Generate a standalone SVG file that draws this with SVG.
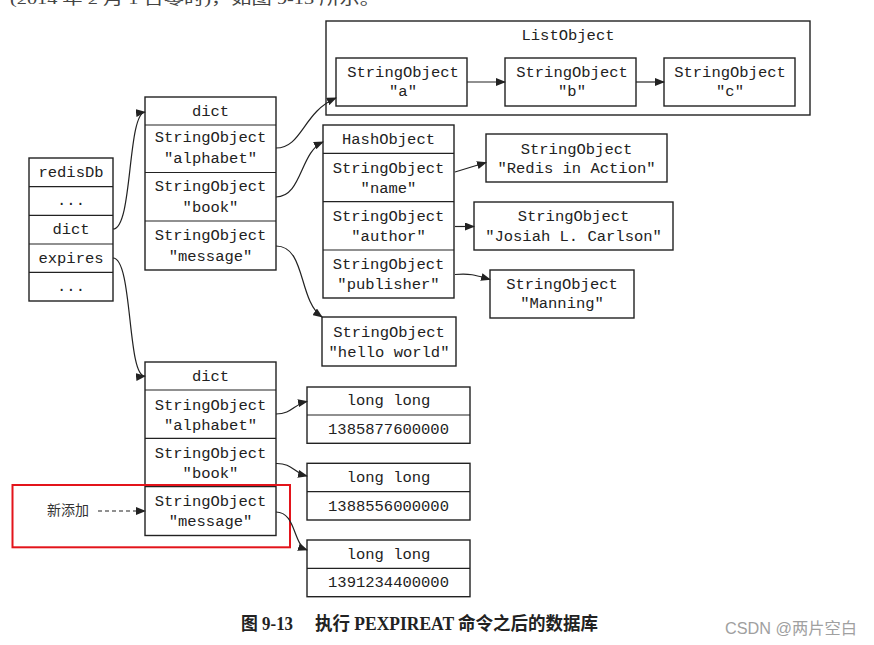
<svg xmlns="http://www.w3.org/2000/svg" width="874" height="645" viewBox="0 0 874 645">
<style>
.box{fill:#fff;stroke:#222;stroke-width:1.4}
.t{font-family:"Liberation Mono","DejaVu Sans Mono",monospace;font-size:15.5px;fill:#222;text-anchor:middle}
.c{fill:none;stroke:#222;stroke-width:1.2}
</style>
<defs>
<marker id="ah" markerUnits="userSpaceOnUse" markerWidth="10" markerHeight="8" refX="9" refY="4" orient="auto">
<path d="M0,0 L10,4 L0,8 z" fill="#222"/>
</marker>
</defs>
<rect width="874" height="645" fill="#fff"/>
<text x="10" y="4" font-family="'Liberation Serif','Noto Sans CJK SC',serif" font-size="15" fill="#444" textLength="370" lengthAdjust="spacingAndGlyphs">(2014 年 2 月 1 日零时)，如图 9-13 所示。</text>

<g id="redisDb">
<rect class="box" x="29" y="158" width="84" height="143"/>
<path class="c" d="M29,186.7H113M29,215.3H113M29,244H113M29,272.3H113"/>
<text class="t" x="71" y="177">redisDb</text>
<text class="t" x="71" y="205">...</text>
<text class="t" x="71" y="234">dict</text>
<text class="t" x="71" y="263">expires</text>
<text class="t" x="71" y="291">...</text>
</g>

<g id="dict1">
<rect class="box" x="145" y="97" width="131" height="173"/>
<path class="c" d="M145,125H276M145,172.5H276M145,221H276"/>
<text class="t" x="210.5" y="116">dict</text>
<text class="t" x="210.5" y="142">StringObject</text>
<text class="t" x="210.5" y="163">"alphabet"</text>
<text class="t" x="210.5" y="191">StringObject</text>
<text class="t" x="210.5" y="212">"book"</text>
<text class="t" x="210.5" y="240">StringObject</text>
<text class="t" x="210.5" y="261">"message"</text>
</g>

<g id="listObject">
<rect class="box" x="326" y="21" width="484" height="94"/>
<text class="t" x="568" y="40">ListObject</text>
</g>
<g id="strA">
<rect class="box" x="336" y="58" width="131" height="48"/>
<text class="t" x="403" y="77">StringObject</text>
<text class="t" x="403" y="96">"a"</text>
</g>
<g id="strB">
<rect class="box" x="505" y="58" width="131" height="48"/>
<text class="t" x="572" y="77">StringObject</text>
<text class="t" x="572" y="96">"b"</text>
</g>
<g id="strC">
<rect class="box" x="664" y="58" width="131" height="48"/>
<text class="t" x="730" y="77">StringObject</text>
<text class="t" x="730" y="96">"c"</text>
</g>

<g id="hashObject">
<rect class="box" x="323" y="125" width="131" height="173"/>
<path class="c" d="M323,153.3H454M323,201.7H454M323,250H454"/>
<text class="t" x="388.5" y="144">HashObject</text>
<text class="t" x="388.5" y="173">StringObject</text>
<text class="t" x="388.5" y="193">"name"</text>
<text class="t" x="388.5" y="221">StringObject</text>
<text class="t" x="388.5" y="241">"author"</text>
<text class="t" x="388.5" y="269">StringObject</text>
<text class="t" x="388.5" y="289">"publisher"</text>
</g>
<g id="strRedis">
<rect class="box" x="486" y="134" width="181" height="48"/>
<text class="t" x="576.5" y="154">StringObject</text>
<text class="t" x="576.5" y="173">"Redis in Action"</text>
</g>
<g id="strJosiah">
<rect class="box" x="474" y="202" width="199" height="48"/>
<text class="t" x="573.5" y="221">StringObject</text>
<text class="t" x="573.5" y="241">"Josiah L. Carlson"</text>
</g>
<g id="strManning">
<rect class="box" x="490" y="270" width="144" height="48"/>
<text class="t" x="562" y="289">StringObject</text>
<text class="t" x="562" y="308">"Manning"</text>
</g>
<g id="strHello">
<rect class="box" x="322" y="317" width="134" height="49"/>
<text class="t" x="389" y="337">StringObject</text>
<text class="t" x="389" y="357">"hello world"</text>
</g>

<g id="dict2">
<rect class="box" x="145" y="362" width="131" height="173.5"/>
<path class="c" d="M145,390H276M145,438.3H276M145,486.7H276"/>
<text class="t" x="210.5" y="381">dict</text>
<text class="t" x="210.5" y="410">StringObject</text>
<text class="t" x="210.5" y="430">"alphabet"</text>
<text class="t" x="210.5" y="458">StringObject</text>
<text class="t" x="210.5" y="478">"book"</text>
<text class="t" x="210.5" y="506">StringObject</text>
<text class="t" x="210.5" y="526">"message"</text>
</g>
<g id="ll1">
<rect class="box" x="307" y="387" width="163" height="56.3"/>
<path class="c" d="M307,415H470"/>
<text class="t" x="388.5" y="405">long long</text>
<text class="t" x="388.5" y="434">1385877600000</text>
</g>
<g id="ll2">
<rect class="box" x="307" y="463.3" width="163" height="56.7"/>
<path class="c" d="M307,491.7H470"/>
<text class="t" x="388.5" y="482">long long</text>
<text class="t" x="388.5" y="511">1388556000000</text>
</g>
<g id="ll3">
<rect class="box" x="307" y="540" width="163" height="56.7"/>
<path class="c" d="M307,568.3H470"/>
<text class="t" x="388.5" y="559">long long</text>
<text class="t" x="388.5" y="587">1391234400000</text>
</g>

<g id="highlight">
<rect x="12.5" y="485" width="277.5" height="62.3" fill="none" stroke="#e3141b" stroke-width="2"/>
<text x="68" y="515" font-family="'Noto Sans CJK SC',sans-serif" font-size="14" fill="#333" text-anchor="middle">新添加</text>
</g>

<g id="connectors">
<path class="c" marker-end="url(#ah)" d="M113,229 C133,229 127,114 145,112"/>
<path class="c" marker-end="url(#ah)" d="M113,258 C133,258 127,378 145,376"/>
<path class="c" marker-end="url(#ah)" d="M276,148 C302,148 303,112 336,98"/>
<path class="c" marker-end="url(#ah)" d="M276,197 C302,197 300,152 323,142"/>
<path class="c" marker-end="url(#ah)" d="M276,246 C306,246 298,300 322,317"/>
<path class="c" marker-end="url(#ah)" d="M455,172 L486,162.5"/>
<path class="c" marker-end="url(#ah)" d="M455,226.5 L474,226.5"/>
<path class="c" marker-end="url(#ah)" d="M455,274.5 C472,273 478,276 490,279.5"/>
<path class="c" marker-end="url(#ah)" d="M467,82 L505,82"/>
<path class="c" marker-end="url(#ah)" d="M636,82 L664,82"/>
<path class="c" marker-end="url(#ah)" d="M276,414 C292,414 294,404 307,401.5"/>
<path class="c" marker-end="url(#ah)" d="M276,463.5 C292,463 294,473 307,476"/>
<path class="c" marker-end="url(#ah)" d="M276,512 C296,512 293,545 307,550"/>
<path class="c" marker-end="url(#ah)" stroke-dasharray="4,3" d="M98,511 L145,511"/>
</g>

<g id="caption" font-family="'Liberation Serif','Noto Sans CJK SC',serif" font-size="18" font-weight="600" fill="#222">
<text x="241" y="630" textLength="52" lengthAdjust="spacingAndGlyphs">图 9-13</text>
<text x="315" y="630" textLength="283" lengthAdjust="spacingAndGlyphs">执行 PEXPIREAT 命令之后的数据库</text>
</g>
<text x="725" y="634" font-family="'Liberation Sans','Noto Sans CJK SC',sans-serif" font-size="16" fill="#a0a0a0" textLength="132" lengthAdjust="spacingAndGlyphs">CSDN @两片空白</text>
</svg>
